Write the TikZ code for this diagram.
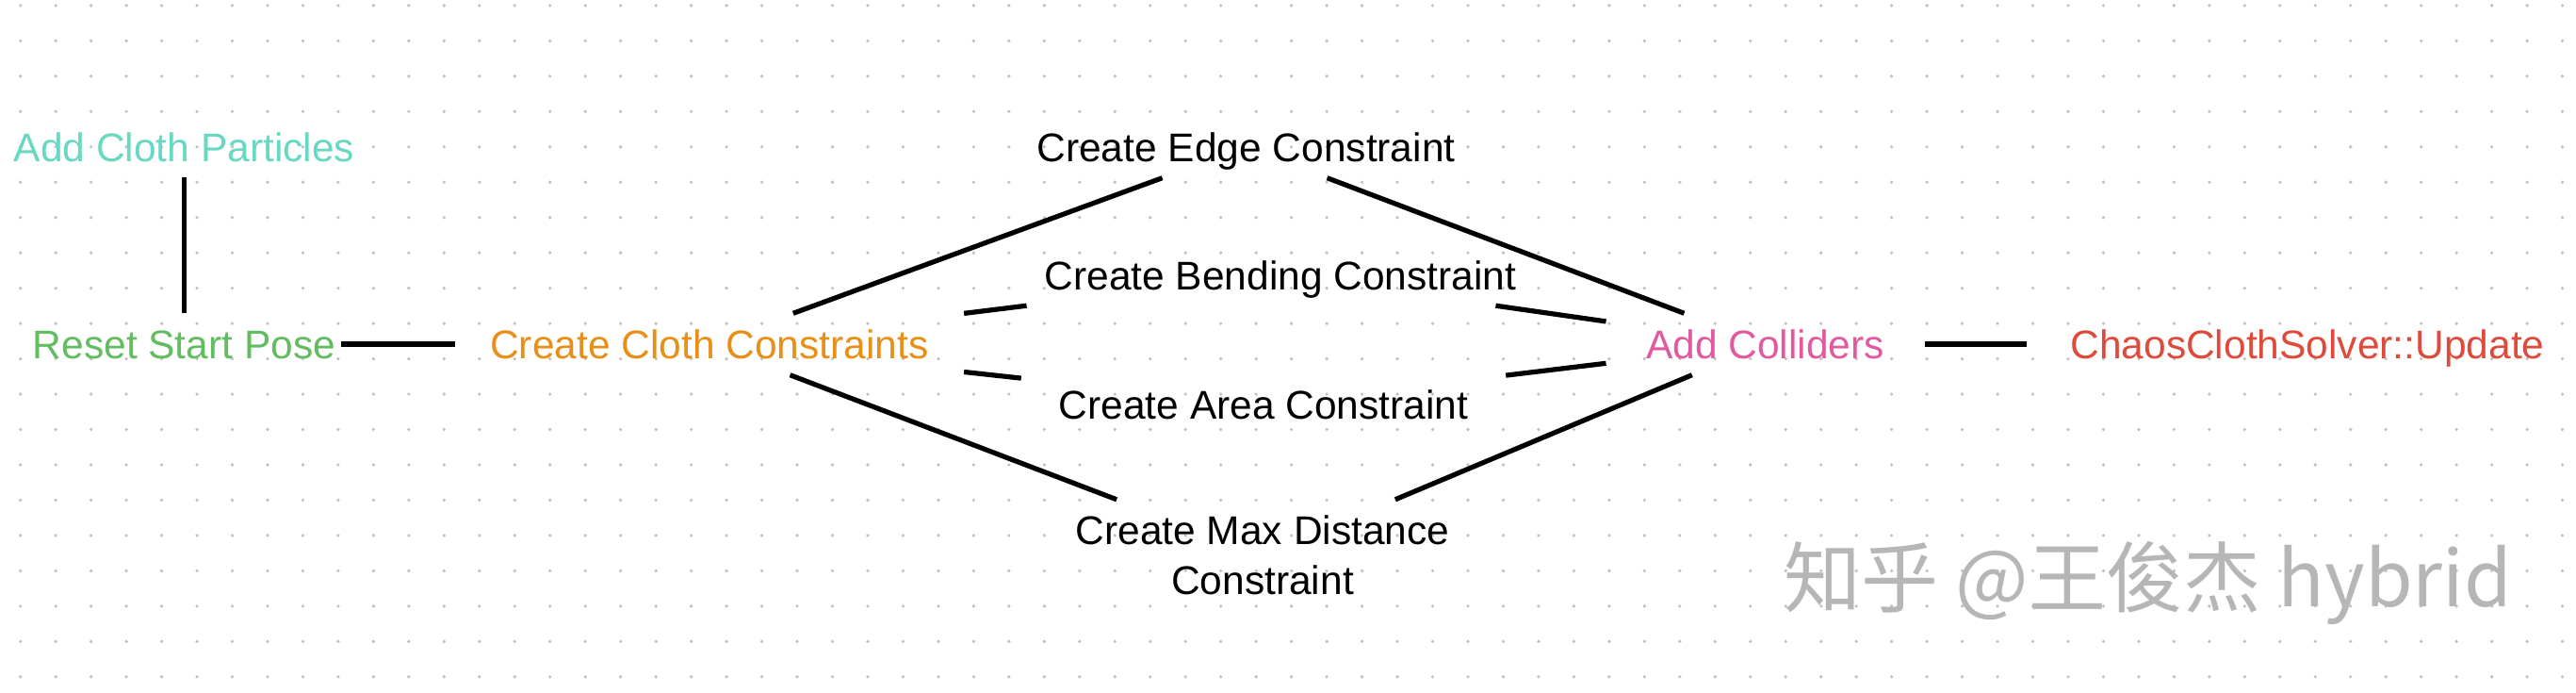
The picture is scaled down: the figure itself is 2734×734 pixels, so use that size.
\documentclass[tikz,border=0pt]{standalone}
\usepackage{fontspec}
\setmainfont{Liberation Sans}
\newfontfamily\cjk{Noto Sans CJK SC}
\definecolor{cPart}{RGB}{104,216,195}
\definecolor{cReset}{RGB}{98,188,96}
\definecolor{cCloth}{RGB}{232,143,24}
\definecolor{cColl}{RGB}{225,90,160}
\definecolor{cChaos}{RGB}{222,75,60}
\definecolor{dotc}{RGB}{192,192,192}
\definecolor{wmgray}{RGB}{182,182,182}
\tikzset{
  lbl/.style={font=\fontsize{42.5}{52.7}\selectfont, anchor=base, inner xsep=0pt, inner ysep=17pt, text height=31pt, text depth=0pt, align=center},
  conn/.style={draw=black, line width=5.2pt},
}
\begin{document}
\begin{tikzpicture}[x=1pt,y=-1pt]
\useasboundingbox (0,0) rectangle (2734,734);
\fill[white] (0,0) rectangle (2734,734);
% dot grid
\foreach \i in {0,...,72}{
  \foreach \j in {-3,...,16}{
    \fill[dotc] (21.7+37.47*\i, 118.3+37.47*\j) circle (1.8pt);
  }
}
% nodes
\node[lbl, text=cPart, minimum width=420pt] (part) at (195.5,171) {Add Cloth Particles};
\node[lbl, text=cReset, minimum width=333pt] (reset) at (195.5,380.5) {Reset Start Pose};
\node[lbl, text=cCloth, minimum width=540pt] (cloth) at (752.9,380.5) {Create Cloth Constraints};
\node[lbl, minimum width=500pt] (edge) at (1322.5,171.5) {Create Edge Constraint};
\node[lbl, minimum width=560pt] (bend) at (1359,307) {Create Bending Constraint};
\node[lbl, minimum width=514pt] (area) at (1341,444.5) {Create Area Constraint};
\node[font=\fontsize{42.5}{52.7}\selectfont, align=center, inner sep=0pt, minimum width=480pt, minimum height=118pt] (maxd) at (1340,589) {Create Max Distance\\Constraint};
\node[lbl, text=cColl, minimum width=337.6pt] (coll) at (1873.5,380.5) {Add Colliders};
\node[lbl, text=cChaos, minimum width=596.6pt] (chaos) at (2449,380.5) {ChaosClothSolver::Update};
% watermark
\node[font=\cjk\fontsize{82}{82}\selectfont, text=wmgray, anchor=base west, inner sep=0pt] (wm) at (1893,643) {知乎 @王俊杰 hybrid};
% connectors
\draw[conn] (part) -- (reset);
\draw[conn] (reset) -- (cloth);
\draw[conn] (cloth) -- (edge);
\draw[conn] (cloth) -- (bend);
\draw[conn] (cloth) -- (area);
\draw[conn] (cloth) -- (maxd);
\draw[conn] (edge) -- (coll);
\draw[conn] (bend) -- (coll);
\draw[conn] (area) -- (coll);
\draw[conn] (maxd) -- (coll);
\draw[conn] (coll) -- (chaos);
\end{tikzpicture}
\end{document}
